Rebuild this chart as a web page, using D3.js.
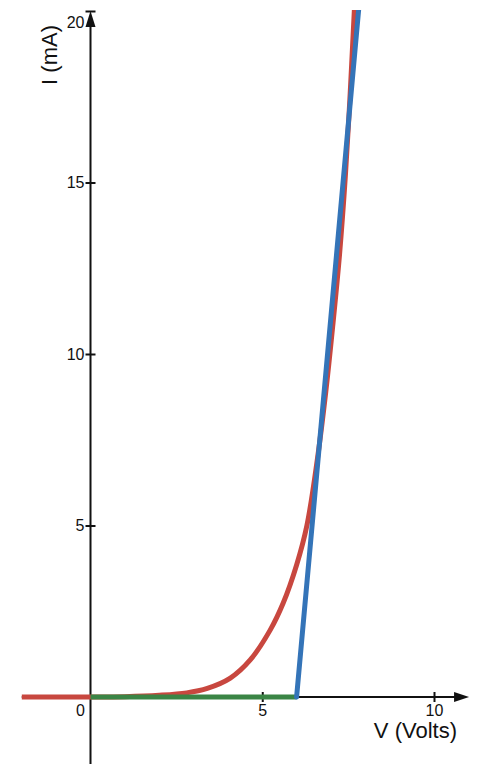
<!DOCTYPE html>
<html>
<head>
<meta charset="utf-8">
<script src="https://cdn.jsdelivr.net/npm/d3@7"></script>
<style>
  body { margin: 0; background: #fff; }
  text { font-family: "Liberation Sans", Arial, sans-serif; fill: #111; }
</style>
</head>
<body>
<div id="chart"></div>
<script>
// diode I-V curve (red), ideal model (green + blue)
const redV = [-2, 0, 1, 2, 2.8, 3.4, 4.07, 4.65, 5.23, 5.61, 6.0, 6.3, 6.6, 6.85, 7.05, 7.25, 7.42, 7.56, 7.68, 7.75];
const redI = [0, 0, 0.01, 0.05, 0.12, 0.25, 0.55, 1.08, 1.95, 2.74, 3.85, 5.0, 6.9, 8.9, 10.8, 12.9, 15.2, 17.6, 20.0, 21.2];

const greenV = [0, 6];
const greenI = [0, 0];

const blueV = [6, 7.83];
const blueI = [0, 20.3];

const xTicks = [5, 10];
const yTicks = [5, 10, 15, 20];

const svgWidth = 501;
const svgHeight = 774;

// axis extents in data units
const xStart = -2, xEnd = 11.02;
const yStart = -1.95, yEnd = 20;

const svg = d3.select("#chart")
    .append("svg")
    .attr("width", svgWidth)
    .attr("height", svgHeight);

const x = d3.scaleLinear().domain([0, 10]).range([90.5, 434]);
const y = d3.scaleLinear().domain([0, 20]).range([697, 11]);

// clip the curves at the top of the y range
svg.append("clipPath")
    .attr("id", "plotClip")
    .append("rect")
    .attr("x", 0)
    .attr("y", y(yEnd) - 1)
    .attr("width", svgWidth)
    .attr("height", svgHeight);

// x axis
const xAxis = svg.append("g")
    .attr("transform", `translate(0, ${y(0)})`)
    .call(d3.axisBottom(x).tickValues(xTicks).tickSize(5));
xAxis.select(".domain").remove();
xAxis.selectAll(".tick line")
    .attr("y1", -5).attr("y2", 5)
    .attr("stroke", "#111").attr("stroke-width", 2);
xAxis.selectAll(".tick text")
    .attr("y", 8)
    .attr("dy", "0.71em")
    .attr("font-size", "16px")
    .attr("font-family", null)
    .attr("fill", "#111");

svg.append("line")
    .attr("x1", x(xStart)).attr("x2", x(xEnd) - 12)
    .attr("y1", y(0)).attr("y2", y(0))
    .attr("stroke", "#111").attr("stroke-width", 2);
svg.append("path")
    .attr("d", `M${x(xEnd)},${y(0)} L${x(xEnd) - 15},${y(0) - 5} L${x(xEnd) - 15},${y(0) + 5} Z`)
    .attr("fill", "#111");

// y axis
const yAxis = svg.append("g")
    .attr("transform", `translate(${x(0)}, 0)`)
    .call(d3.axisLeft(y).tickValues(yTicks).tickSize(5));
yAxis.select(".domain").remove();
yAxis.selectAll(".tick line")
    .attr("x1", -5).attr("x2", 5)
    .attr("stroke", "#111").attr("stroke-width", 2);
yAxis.selectAll(".tick text")
    .attr("x", -6)
    .attr("dy", d => d === yEnd ? "1.05em" : "0.32em")
    .attr("font-size", "16px")
    .attr("font-family", null)
    .attr("fill", "#111");

svg.append("line")
    .attr("x1", x(0)).attr("x2", x(0))
    .attr("y1", y(yStart)).attr("y2", y(yEnd) + 10)
    .attr("stroke", "#111").attr("stroke-width", 2);
svg.append("path")
    .attr("d", `M${x(0)},${y(yEnd)} L${x(0) - 5},${y(yEnd) + 16} L${x(0) + 5},${y(yEnd) + 16} Z`)
    .attr("fill", "#111");

// origin label
svg.append("text")
    .attr("x", x(0) - 5.5)
    .attr("y", y(0) + 8)
    .attr("dy", "0.71em")
    .attr("text-anchor", "end")
    .attr("font-size", "16px")
    .text("0");

// axis titles
svg.append("text")
    .attr("x", 457)
    .attr("y", 738)
    .attr("text-anchor", "end")
    .attr("font-size", "22px")
    .text("V (Volts)");

svg.append("text")
    .attr("transform", "translate(57, 25) rotate(-90)")
    .attr("text-anchor", "end")
    .attr("font-size", "22px")
    .text("I (mA)");

// curves
const plot = svg.append("g").attr("clip-path", "url(#plotClip)");

const redData = redV.map((v, i) => ({ v: v, i: redI[i] }));
const greenData = greenV.map((v, i) => ({ v: v, i: greenI[i] }));
const blueData = blueV.map((v, i) => ({ v: v, i: blueI[i] }));

const curveLine = d3.line()
    .x(d => x(d.v))
    .y(d => y(d.i))
    .curve(d3.curveCatmullRom.alpha(0.5));

const straight = d3.line()
    .x(d => x(d.v))
    .y(d => y(d.i));

plot.append("path")
    .datum(redData)
    .attr("d", curveLine)
    .attr("fill", "none")
    .attr("stroke", "#c8473f")
    .attr("stroke-width", 5);

plot.append("path")
    .datum(greenData)
    .attr("d", straight)
    .attr("fill", "none")
    .attr("stroke", "#3a8545")
    .attr("stroke-width", 5);

plot.append("path")
    .datum(blueData)
    .attr("d", straight)
    .attr("fill", "none")
    .attr("stroke", "#3474b8")
    .attr("stroke-width", 5)
    .attr("stroke-linecap", "round");
</script>
</body>
</html>
